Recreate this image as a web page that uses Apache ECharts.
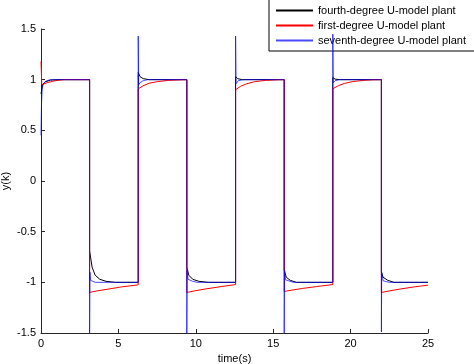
<!DOCTYPE html>
<html>
<head>
<meta charset="utf-8">
<script src="https://cdn.jsdelivr.net/npm/echarts@6/dist/echarts.min.js"></script>
<style>
html,body{margin:0;padding:0;background:#fff;}
#chart{width:474px;height:364px;}
</style>
</head>
<body>
<div id="chart"></div>
<script>
// series names (legend)
var names = ['fourth-degree U-model plant', 'first-degree U-model plant', 'seventh-degree U-model plant'];

// x / y axis ticks
var xTicks = [0, 5, 10, 15, 20, 25];
var yTicks = [-1.5, -1, -0.5, 0, 0.5, 1, 1.5];

// fourth-degree (black), [time, y]
var fourthData = [
	[0, 0.86], [0.1, 0.95], [0.3, 0.98], [0.6, 0.995], [1, 1], [3.14, 1],
	[3.14, -0.69], [3.3, -0.85], [3.5, -0.93], [3.8, -0.97], [4.2, -0.99], [4.8, -1], [6.28, -1],
	[6.28, 1.07], [6.4, 1.03], [6.6, 1.01], [7.0, 1], [9.42, 1],
	[9.42, -0.85], [9.55, -0.93], [9.8, -0.97], [10.2, -0.99], [10.8, -1], [12.57, -1],
	[12.57, 1.03], [12.7, 1.01], [13.0, 1], [15.71, 1],
	[15.71, -0.88], [15.85, -0.95], [16.1, -0.98], [16.5, -1], [18.85, -1],
	[18.85, 1.02], [19.0, 1.005], [19.3, 1], [21.99, 1],
	[21.99, -0.9], [22.1, -0.95], [22.4, -0.98], [22.8, -1], [25, -1]
];

// first-degree (red)
var firstData = [
	[0, 1.18], [0.05, 0.95], [0.4, 0.97], [0.9, 0.99], [1.5, 1], [3.14, 1],
	[3.14, -1.1], [3.6, -1.085], [4.3, -1.068], [5.2, -1.045], [6.28, -1.025],
	[6.28, 0.91], [6.6, 0.94], [7.0, 0.965], [7.5, 0.98], [8.2, 0.993], [9.0, 0.998], [9.42, 1],
	[9.42, -1.1], [9.9, -1.085], [10.6, -1.066], [11.5, -1.045], [12.57, -1.022],
	[12.57, 0.9], [12.9, 0.935], [13.3, 0.96], [13.8, 0.98], [14.5, 0.993], [15.3, 0.999], [15.71, 1],
	[15.71, -1.09], [16.2, -1.077], [16.9, -1.06], [17.8, -1.042], [18.85, -1.022],
	[18.85, 0.91], [19.2, 0.94], [19.6, 0.963], [20.1, 0.98], [20.8, 0.993], [21.5, 0.999], [21.99, 1],
	[21.99, -1.1], [22.5, -1.085], [23.2, -1.066], [24.1, -1.045], [25, -1.028]
];

// seventh-degree (blue)
var seventhData = [
	[0, 0.45], [0.03, 0.75], [0.08, 0.92], [0.15, 0.96], [0.3, 0.985], [0.6, 1], [3.14, 1],
	[3.14, -1.5], [3.16, -0.9], [3.2, -0.98], [3.5, -1], [6.28, -1],
	[6.28, 1.43], [6.31, 0.95], [6.4, 0.97], [6.6, 0.99], [6.9, 1], [9.42, 1],
	[9.42, -1.5], [9.44, -0.88], [9.5, -0.97], [9.8, -0.99], [10.1, -1], [12.57, -1],
	[12.57, 1.43], [12.6, 0.96], [12.75, 0.99], [13.1, 1], [15.71, 1],
	[15.71, -1.5], [15.73, -0.88], [15.8, -0.975], [16.3, -1], [18.85, -1],
	[18.85, 1.45], [18.88, 0.97], [19.0, 0.99], [19.3, 1], [21.99, 1],
	[21.99, -1.49], [22.01, -0.9], [22.1, -0.985], [22.5, -1], [25, -1]
];

var chart = echarts.init(document.getElementById('chart'));
var font = 'Liberation Sans, Arial, Helvetica, sans-serif';

var option = {
	animation: false,
	backgroundColor: '#fff',
	textStyle: { fontFamily: font },
	grid: {
		left: 41,
		right: 46,
		top: 29,
		bottom: 31,
		containLabel: false,
		outerBoundsMode: 'none'
	},
	legend: {
		data: names,
		orient: 'vertical',
		left: 269,
		top: -2,
		padding: [7, 14, 5, 6],
		itemWidth: 37,
		itemHeight: 12,
		itemGap: 4,
		borderColor: '#000',
		borderWidth: 1,
		backgroundColor: '#fff',
		itemStyle: { opacity: 0 },
		textStyle: { fontFamily: font, fontSize: 11, color: '#000' }
	},
	xAxis: {
		type: 'value',
		min: 0,
		max: 25,
		interval: 5,
		name: 'time(s)',
		nameLocation: 'middle',
		nameGap: 20,
		nameMoveOverlap: false,
		nameTextStyle: { fontFamily: font, fontSize: 11, color: '#000' },
		axisLine: { onZero: false, lineStyle: { color: '#262626', width: 1 } },
		axisTick: { inside: true, length: 4, lineStyle: { color: '#262626' } },
		axisLabel: { fontFamily: font, fontSize: 11, color: '#000', margin: 5 },
		splitLine: { show: false }
	},
	yAxis: {
		type: 'value',
		min: -1.5,
		max: 1.5,
		interval: 0.5,
		name: 'y(k)',
		nameLocation: 'middle',
		nameGap: 30,
		nameMoveOverlap: false,
		nameRotate: 90,
		nameTextStyle: { fontFamily: font, fontSize: 11, color: '#000' },
		axisLine: { show: true, onZero: false, lineStyle: { color: '#262626', width: 1 } },
		axisTick: { show: true, inside: true, length: 4, lineStyle: { color: '#262626' } },
		axisLabel: { fontFamily: font, fontSize: 11, color: '#000', margin: 5 },
		splitLine: { show: false }
	},
	series: [{
		name: names[0],
		type: 'line',
		symbol: 'none',
		z: 2,
		lineStyle: { color: '#000', width: 1 },
		itemStyle: { color: '#000' },
		data: fourthData
	}, {
		name: names[1],
		type: 'line',
		symbol: 'none',
		z: 3,
		lineStyle: { color: '#ff0000', width: 1 },
		itemStyle: { color: '#ff0000' },
		data: firstData
	}, {
		name: names[2],
		type: 'line',
		symbol: 'none',
		z: 4,
		lineStyle: { color: '#0000ff', width: 1, opacity: 0.7 },
		itemStyle: { color: '#0000ff' },
		data: seventhData
	}]
};
chart.setOption(option);
</script>
</body>
</html>
